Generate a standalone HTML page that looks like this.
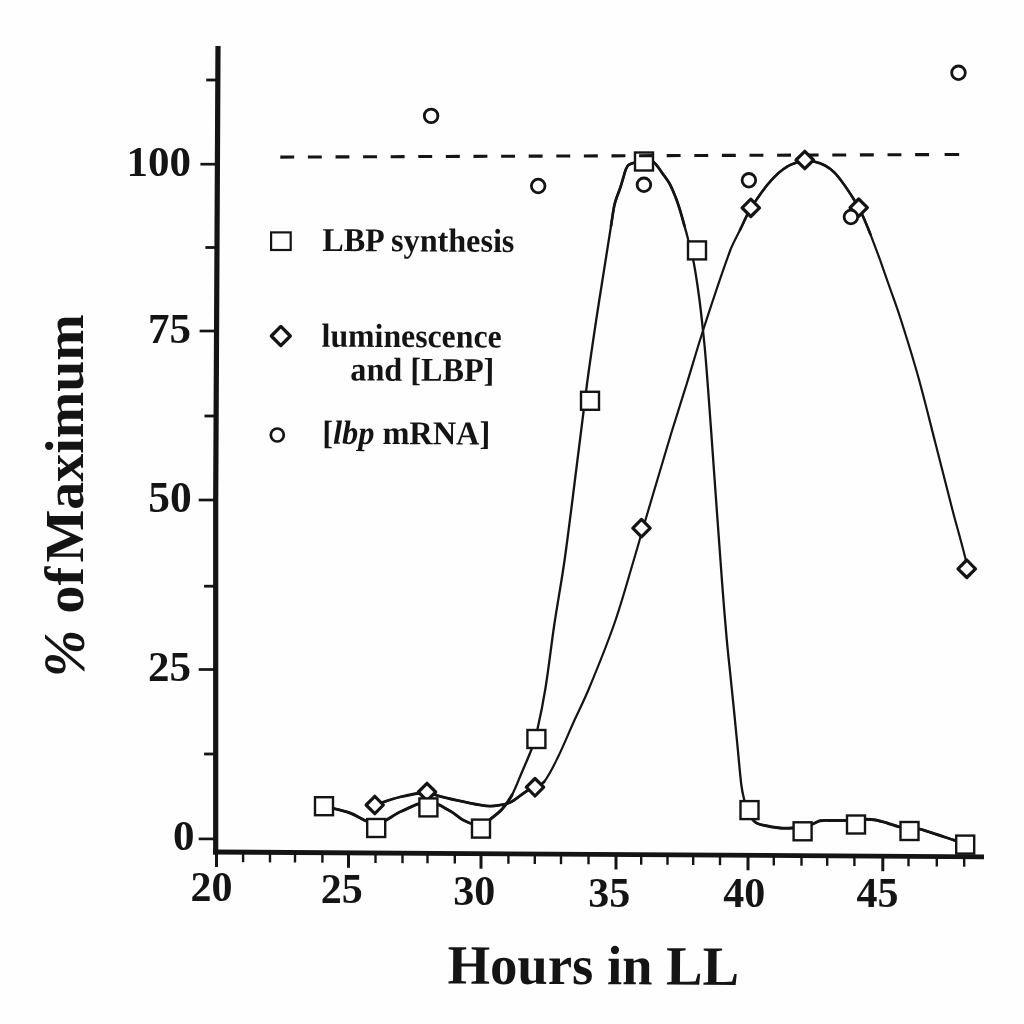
<!DOCTYPE html>
<html lang="en"><head><meta charset="utf-8"><title>Hours in LL chart</title>
<style>
html,body{margin:0;padding:0;background:#fefefe;}
body{width:1024px;height:1024px;overflow:hidden;}
svg{display:block;}
text{font-family:"Liberation Serif",serif;font-weight:bold;fill:#141414;}
.ln{fill:none;stroke:#141414;stroke-linecap:round;stroke-linejoin:round;}
.mk{fill:#fefefe;stroke:#141414;}
</style></head><body>
<svg width="1024" height="1024" viewBox="0 0 1024 1024">
<rect width="1024" height="1024" fill="#fefefe"/>
<g id="axes" stroke="#141414" fill="none">
<polyline points="218,46 215.7,500 215.7,854.4" stroke-width="5.2" stroke-linejoin="round"/>
<line x1="213.1" y1="852.0" x2="984.0" y2="856.8" stroke-width="4.8"/>
<line x1="200.4" y1="164.2" x2="217.4" y2="164.2" stroke-width="2.7"/>
<line x1="199.6" y1="331.0" x2="216.6" y2="331.0" stroke-width="2.7"/>
<line x1="198.7" y1="500.0" x2="215.7" y2="500.0" stroke-width="2.7"/>
<line x1="198.7" y1="669.5" x2="215.7" y2="669.5" stroke-width="2.7"/>
<line x1="198.7" y1="838.9" x2="215.7" y2="838.9" stroke-width="2.7"/>
<line x1="206.2" y1="80.0" x2="217.8" y2="80.0" stroke-width="2.8"/>
<line x1="205.4" y1="247.5" x2="217.0" y2="247.5" stroke-width="2.8"/>
<line x1="204.5" y1="416.0" x2="216.1" y2="416.0" stroke-width="2.8"/>
<line x1="204.1" y1="586.2" x2="215.7" y2="586.2" stroke-width="2.8"/>
<line x1="204.1" y1="754.0" x2="215.7" y2="754.0" stroke-width="2.8"/>
<line x1="216.5" y1="852.0" x2="216.5" y2="867.0" stroke-width="3"/>
<line x1="243.1" y1="852.2" x2="243.1" y2="862.2" stroke-width="2.4"/>
<line x1="270.0" y1="852.4" x2="270.0" y2="862.4" stroke-width="2.4"/>
<line x1="295.0" y1="852.5" x2="295.0" y2="862.5" stroke-width="2.4"/>
<line x1="322.4" y1="852.7" x2="322.4" y2="862.7" stroke-width="2.4"/>
<line x1="348.5" y1="852.8" x2="348.5" y2="867.8" stroke-width="3"/>
<line x1="375.5" y1="853.0" x2="375.5" y2="863.0" stroke-width="2.4"/>
<line x1="402.5" y1="853.2" x2="402.5" y2="863.2" stroke-width="2.4"/>
<line x1="427.5" y1="853.3" x2="427.5" y2="863.3" stroke-width="2.4"/>
<line x1="454.8" y1="853.5" x2="454.8" y2="863.5" stroke-width="2.4"/>
<line x1="481.0" y1="853.7" x2="481.0" y2="868.7" stroke-width="3"/>
<line x1="508.4" y1="853.8" x2="508.4" y2="863.8" stroke-width="2.4"/>
<line x1="534.8" y1="854.0" x2="534.8" y2="864.0" stroke-width="2.4"/>
<line x1="561.0" y1="854.2" x2="561.0" y2="864.2" stroke-width="2.4"/>
<line x1="588.5" y1="854.3" x2="588.5" y2="864.3" stroke-width="2.4"/>
<line x1="616.0" y1="854.5" x2="616.0" y2="869.5" stroke-width="3"/>
<line x1="641.2" y1="854.7" x2="641.2" y2="864.7" stroke-width="2.4"/>
<line x1="667.5" y1="854.8" x2="667.5" y2="864.8" stroke-width="2.4"/>
<line x1="693.2" y1="855.0" x2="693.2" y2="865.0" stroke-width="2.4"/>
<line x1="720.0" y1="855.2" x2="720.0" y2="865.2" stroke-width="2.4"/>
<line x1="748.0" y1="855.3" x2="748.0" y2="870.3" stroke-width="3"/>
<line x1="773.8" y1="855.5" x2="773.8" y2="865.5" stroke-width="2.4"/>
<line x1="801.5" y1="855.7" x2="801.5" y2="865.7" stroke-width="2.4"/>
<line x1="827.2" y1="855.8" x2="827.2" y2="865.8" stroke-width="2.4"/>
<line x1="854.4" y1="856.0" x2="854.4" y2="866.0" stroke-width="2.4"/>
<line x1="882.8" y1="856.2" x2="882.8" y2="871.2" stroke-width="3"/>
<line x1="908.5" y1="856.3" x2="908.5" y2="866.3" stroke-width="2.4"/>
<line x1="936.8" y1="856.5" x2="936.8" y2="866.5" stroke-width="2.4"/>
<line x1="964.2" y1="856.7" x2="964.2" y2="866.7" stroke-width="2.4"/>
</g>
<path class="ln" stroke-width="2.2" d="M374.8,805.0C383.2,802.3 391.4,799.1 400.0,797.0C408.9,794.9 417.9,792.9 427.0,792.5C430.1,792.3 433.0,794.4 436.0,795.2C442.6,797.0 449.3,798.8 456.0,800.2C464.3,802.1 472.6,803.9 481.0,805.2C485.0,805.9 489.0,806.4 493.0,806.0C498.8,805.5 504.7,804.8 510.0,802.5C516.2,799.7 521.0,794.5 526.8,791.0C529.3,789.4 532.3,788.6 535.0,787.2C538.1,785.6 541.9,784.8 544.0,782.0C549.8,774.4 553.8,765.6 558.0,757.0C563.4,746.0 568.0,734.6 573.0,723.5C578.4,711.6 584.3,700.0 589.2,688.0C598.0,666.8 606.7,645.6 614.2,624.0C621.6,602.9 627.4,581.4 633.8,560.0C636.8,550.0 639.6,540.0 642.5,530.0C652.0,498.0 661.3,465.9 671.0,434.0C676.2,416.9 681.7,400.0 687.0,383.0C692.7,364.5 698.0,345.9 704.0,327.5C712.3,301.9 720.7,276.3 730.0,251.0C732.7,243.7 736.6,237.0 740.0,230.0C743.6,222.6 746.9,215.0 750.8,207.7C752.3,204.9 754.4,202.5 756.3,199.9C759.9,194.9 763.3,189.8 767.2,185.0C770.6,180.9 774.3,176.9 778.2,173.3C781.1,170.7 784.2,168.3 787.6,166.3C790.3,164.7 793.3,163.7 796.2,162.7C799.0,161.8 801.8,160.7 804.8,160.5C807.9,160.3 811.1,160.8 814.1,161.6C817.8,162.5 821.6,163.7 825.0,165.5C828.4,167.3 831.6,169.7 834.4,172.5C838.0,176.0 840.8,180.2 843.8,184.2C847.1,188.8 850.2,193.5 853.2,198.3C855.1,201.4 857.0,204.5 858.7,207.7C860.3,210.7 861.9,213.8 863.3,217.0C865.8,222.7 868.1,228.5 870.4,234.2C873.6,242.5 876.7,250.9 879.8,259.2C883.2,268.8 886.5,278.4 889.9,288.0C893.5,298.2 897.2,308.2 900.5,318.5C906.6,337.6 912.6,356.7 918.0,376.0C924.3,398.4 929.7,421.0 935.5,443.5C941.4,466.3 947.1,489.2 953.0,512.0C957.1,527.6 961.7,543.1 965.5,558.8C966.3,562.0 966.3,565.4 966.8,568.8"/>
<path class="ln" stroke-width="2.8" d="M374.8,805.0C383.2,802.3 391.4,799.1 400.0,797.0C408.9,794.9 417.9,792.9 427.0,792.5C430.1,792.3 433.0,794.4 436.0,795.2C442.6,797.0 449.3,798.8 456.0,800.2C464.3,802.1 472.6,803.9 481.0,805.2C485.0,805.9 489.0,806.4 493.0,806.0C498.8,805.5 504.7,804.8 510.0,802.5C516.2,799.7 521.0,794.5 526.8,791.0C529.3,789.4 532.3,788.6 535.0,787.2C538.1,785.6 541.9,784.8 544.0,782.0"/>
<path class="ln" stroke-width="2.6" d="M740.0,230.0C743.6,222.6 746.9,215.0 750.8,207.7C752.3,204.9 754.4,202.5 756.3,199.9C759.9,194.9 763.3,189.8 767.2,185.0C770.6,180.9 774.3,176.9 778.2,173.3C781.1,170.7 784.2,168.3 787.6,166.3C790.3,164.7 793.3,163.7 796.2,162.7C799.0,161.8 801.8,160.7 804.8,160.5C807.9,160.3 811.1,160.8 814.1,161.6C817.8,162.5 821.6,163.7 825.0,165.5C828.4,167.3 831.6,169.7 834.4,172.5C838.0,176.0 840.8,180.2 843.8,184.2C847.1,188.8 850.2,193.5 853.2,198.3C855.1,201.4 857.0,204.5 858.7,207.7C860.3,210.7 861.9,213.8 863.3,217.0C865.8,222.7 868.1,228.5 870.4,234.2"/>
<g id="diamonds" class="mk" stroke-width="3.2" stroke-linejoin="round">
<path d="M374.8,796.3 L383.4,805.0 L374.8,813.7 L366.1,805.0Z"/>
<path d="M427.0,783.3 L435.7,792.0 L427.0,800.7 L418.3,792.0Z"/>
<path d="M535.0,778.5 L543.7,787.2 L535.0,796.0 L526.3,787.2Z"/>
<path d="M641.5,519.4 L650.2,528.1 L641.5,536.8 L632.8,528.1Z"/>
<path d="M750.8,199.1 L759.5,207.8 L750.8,216.5 L742.1,207.8Z"/>
<path d="M858.7,199.0 L867.4,207.7 L858.7,216.4 L850.0,207.7Z"/>
<path d="M966.8,560.0 L975.5,568.8 L966.8,577.5 L958.0,568.8Z"/>
</g>
<path class="ln" stroke-width="2.3" d="M324.0,806.2C332.7,808.5 341.5,810.2 350.0,813.0C358.9,816.0 366.7,823.8 376.0,823.5C385.2,823.2 392.5,815.0 401.0,811.5C410.0,807.8 418.8,801.8 428.5,801.8C436.7,801.8 443.8,807.7 451.0,811.5C455.5,813.9 458.9,818.1 463.5,820.2C469.0,822.8 474.9,826.0 481.0,825.5C485.4,825.2 488.3,820.7 491.8,818.0C495.4,815.2 499.2,812.5 502.2,809.0C506.0,804.7 509.3,800.0 512.0,795.0C515.9,787.6 518.7,779.7 522.0,772.0C525.3,764.2 528.9,756.5 531.8,748.5C534.0,742.1 536.0,735.6 537.5,729.0C540.6,715.4 543.3,701.7 545.5,688.0C548.9,666.7 551.2,645.3 554.4,624.0C557.6,602.6 561.6,581.4 564.6,560.0C568.8,530.1 572.4,500.0 576.2,470.0C579.8,441.3 583.2,412.6 587.0,384.0C589.8,362.6 593.0,341.3 596.2,320.0C598.4,305.3 600.8,290.7 603.1,276.0C605.7,259.3 608.4,242.7 611.0,226.0C612.1,219.3 612.9,212.6 614.2,206.0C614.7,203.3 615.6,200.6 616.5,198.0C617.6,194.8 618.9,191.7 620.0,188.5C621.4,184.4 622.5,180.2 623.8,176.0C624.5,173.7 625.0,171.3 626.0,169.0C626.6,167.6 627.3,166.0 628.5,165.0C630.1,163.8 632.2,163.5 634.0,162.8C636.3,161.9 638.5,160.5 641.0,160.0C643.9,159.4 647.1,158.6 650.0,159.5C652.5,160.2 654.3,162.6 656.0,164.5C658.4,167.1 660.2,170.1 662.2,173.0C664.7,176.5 667.4,179.8 669.5,183.5C671.8,187.6 673.5,192.1 675.3,196.5C676.9,200.4 678.2,204.5 679.5,208.5C681.3,214.3 682.9,220.2 684.5,226.0C685.8,230.6 687.1,235.1 688.2,239.8C690.3,247.8 692.5,255.8 694.0,264.0C696.2,275.9 697.9,288.0 699.5,300.0C701.4,315.0 703.0,330.0 704.5,345.0C705.9,359.3 706.9,373.7 708.0,388.0C710.4,420.3 712.7,452.7 715.0,485.0C717.4,518.0 719.7,551.0 722.2,584.0C723.6,602.7 725.1,621.3 726.8,640.0C728.2,655.3 730.0,670.7 731.5,686.0C733.5,705.3 735.4,724.7 737.3,744.0C738.6,757.3 739.7,770.7 741.2,784.0C741.8,788.7 742.6,793.4 743.8,798.0C744.7,802.1 745.7,806.2 747.5,810.0C749.5,814.3 751.5,818.9 755.0,822.0C757.6,824.3 761.6,824.7 765.0,825.5C769.9,826.7 775.0,827.5 780.0,828.0C784.1,828.4 788.3,828.2 792.5,828.0C795.9,827.8 799.2,827.3 802.5,826.7C805.9,826.1 809.2,825.3 812.5,824.2C815.1,823.4 817.3,821.3 820.0,820.8C824.3,820.0 828.7,820.6 833.0,820.5C837.2,820.5 841.3,820.6 845.5,820.5C849.0,820.4 852.5,820.2 856.0,820.0C859.3,819.8 862.7,819.3 866.0,819.3C869.2,819.3 872.4,819.4 875.5,820.0C879.4,820.7 883.2,821.9 887.0,823.0C891.1,824.2 895.1,825.8 899.2,826.8C902.6,827.5 906.1,827.6 909.5,828.0C912.9,828.4 916.4,828.5 919.8,829.2C925.6,830.6 931.3,832.7 937.0,834.5C943.0,836.4 949.0,838.6 955.0,840.5C958.3,841.6 961.7,842.5 965.0,843.5"/>
<path class="ln" stroke-width="2.9" d="M324.0,806.2C332.7,808.5 341.5,810.2 350.0,813.0C358.9,816.0 366.7,823.8 376.0,823.5C385.2,823.2 392.5,815.0 401.0,811.5C410.0,807.8 418.8,801.8 428.5,801.8C436.7,801.8 443.8,807.7 451.0,811.5C455.5,813.9 458.9,818.1 463.5,820.2C469.0,822.8 474.9,826.0 481.0,825.5C485.4,825.2 488.3,820.7 491.8,818.0C495.4,815.2 499.2,812.5 502.2,809.0C506.0,804.7 509.3,800.0 512.0,795.0"/>
<path class="ln" stroke-width="2.9" d="M747.5,810.0C749.5,814.3 751.5,818.9 755.0,822.0C757.6,824.3 761.6,824.7 765.0,825.5C769.9,826.7 775.0,827.5 780.0,828.0C784.1,828.4 788.3,828.2 792.5,828.0C795.9,827.8 799.2,827.3 802.5,826.7C805.9,826.1 809.2,825.3 812.5,824.2C815.1,823.4 817.3,821.3 820.0,820.8C824.3,820.0 828.7,820.6 833.0,820.5C837.2,820.5 841.3,820.6 845.5,820.5C849.0,820.4 852.5,820.2 856.0,820.0C859.3,819.8 862.7,819.3 866.0,819.3C869.2,819.3 872.4,819.4 875.5,820.0C879.4,820.7 883.2,821.9 887.0,823.0C891.1,824.2 895.1,825.8 899.2,826.8C902.6,827.5 906.1,827.6 909.5,828.0C912.9,828.4 916.4,828.5 919.8,829.2C925.6,830.6 931.3,832.7 937.0,834.5C943.0,836.4 949.0,838.6 955.0,840.5C958.3,841.6 961.7,842.5 965.0,843.5"/>
<path class="ln" stroke-width="2.7" d="M611.0,226.0C612.1,219.3 612.9,212.6 614.2,206.0C614.7,203.3 615.6,200.6 616.5,198.0C617.6,194.8 618.9,191.7 620.0,188.5C621.4,184.4 622.5,180.2 623.8,176.0C624.5,173.7 625.0,171.3 626.0,169.0C626.6,167.6 627.3,166.0 628.5,165.0C630.1,163.8 632.2,163.5 634.0,162.8C636.3,161.9 638.5,160.5 641.0,160.0C643.9,159.4 647.1,158.6 650.0,159.5C652.5,160.2 654.3,162.6 656.0,164.5C658.4,167.1 660.2,170.1 662.2,173.0C664.7,176.5 667.4,179.8 669.5,183.5C671.8,187.6 673.5,192.1 675.3,196.5C676.9,200.4 678.2,204.5 679.5,208.5C681.3,214.3 682.9,220.2 684.5,226.0"/>
<g id="squares" class="mk" stroke-width="2.4">
<rect x="315.0" y="797.2" width="18.0" height="18.0"/>
<rect x="367.2" y="819.0" width="18.0" height="18.0"/>
<rect x="419.4" y="798.4" width="18.0" height="18.0"/>
<rect x="472.0" y="819.6" width="18.0" height="18.0"/>
<rect x="527.4" y="730.0" width="18.0" height="18.0"/>
<rect x="581.0" y="391.8" width="18.0" height="18.0"/>
<rect x="635.0" y="152.5" width="18.0" height="18.0"/>
<rect x="688.0" y="241.4" width="18.0" height="18.0"/>
<rect x="740.5" y="801.1" width="18.0" height="18.0"/>
<rect x="793.6" y="822.3" width="18.0" height="18.0"/>
<rect x="847.0" y="815.5" width="18.0" height="18.0"/>
<rect x="900.5" y="822.0" width="18.0" height="18.0"/>
<rect x="956.2" y="835.6" width="18.0" height="18.0"/>
</g>
<g id="dash" stroke="#141414" stroke-width="3.1">
<line x1="280.3" y1="157.10" x2="294.2" y2="157.05"/>
<line x1="307.9" y1="156.99" x2="321.8" y2="156.94"/>
<line x1="335.5" y1="156.89" x2="349.4" y2="156.84"/>
<line x1="363.1" y1="156.78" x2="377.0" y2="156.73"/>
<line x1="390.7" y1="156.68" x2="404.6" y2="156.62"/>
<line x1="418.3" y1="156.57" x2="432.2" y2="156.52"/>
<line x1="445.9" y1="156.47" x2="459.8" y2="156.41"/>
<line x1="473.5" y1="156.36" x2="487.4" y2="156.31"/>
<line x1="501.1" y1="156.25" x2="515.0" y2="156.20"/>
<line x1="528.7" y1="156.15" x2="542.6" y2="156.10"/>
<line x1="556.3" y1="156.04" x2="570.2" y2="155.99"/>
<line x1="583.9" y1="155.94" x2="597.8" y2="155.88"/>
<line x1="611.5" y1="155.83" x2="625.4" y2="155.78"/>
<line x1="639.1" y1="155.73" x2="653.0" y2="155.67"/>
<line x1="666.7" y1="155.62" x2="680.6" y2="155.57"/>
<line x1="694.3" y1="155.51" x2="708.2" y2="155.46"/>
<line x1="721.9" y1="155.41" x2="735.8" y2="155.36"/>
<line x1="749.5" y1="155.30" x2="763.4" y2="155.25"/>
<line x1="777.1" y1="155.20" x2="791.0" y2="155.14"/>
<line x1="804.7" y1="155.09" x2="818.6" y2="155.04"/>
<line x1="832.3" y1="154.99" x2="846.2" y2="154.93"/>
<line x1="859.9" y1="154.88" x2="873.8" y2="154.83"/>
<line x1="887.5" y1="154.77" x2="901.4" y2="154.72"/>
<line x1="915.1" y1="154.67" x2="929.0" y2="154.61"/>
<line x1="944.6" y1="154.56" x2="959.2" y2="154.50"/>
</g>
<g class="mk" stroke-width="3.2" stroke-linejoin="round"><path d="M804.8,151.3 L813.5,160.0 L804.8,168.7 L796.0,160.0Z"/></g>
<g id="circles" class="mk" stroke-width="2.8">
<circle cx="431.1" cy="115.9" r="6.8"/>
<circle cx="538.2" cy="186.0" r="6.8"/>
<circle cx="643.9" cy="184.8" r="6.8"/>
<circle cx="748.9" cy="180.3" r="6.8"/>
<circle cx="850.9" cy="217.0" r="6.8"/>
<circle cx="958.5" cy="72.8" r="6.8"/>
</g>
<g id="legend">
<rect class="mk" x="271.1" y="232.4" width="19.6" height="17.6" stroke-width="2.2"/>
<path class="mk" stroke-width="3.3" stroke-linejoin="round" d="M280.8,326.4 L290.3,336 L280.8,345.6 L271.3,336Z"/>
<circle class="mk" cx="277.3" cy="435" r="6.5" stroke-width="2.7"/>
<text x="322.2" y="251.0" font-size="33.4" textLength="192.2" lengthAdjust="spacingAndGlyphs" transform="rotate(0.30 322.2 251.0)">LBP synthesis</text>
<text x="321.6" y="346.7" font-size="33.4" textLength="180.0" lengthAdjust="spacingAndGlyphs" transform="rotate(0.30 321.6 346.7)">luminescence</text>
<text x="350.3" y="380.5" font-size="33.4" textLength="144.0" lengthAdjust="spacingAndGlyphs" transform="rotate(0.30 350.3 380.5)">and [LBP]</text>
<text x="322.2" y="443.7" font-size="33.4" textLength="168.0" lengthAdjust="spacingAndGlyphs" transform="rotate(0.30 322.2 443.7)">[<tspan font-style="italic">lbp</tspan> mRNA]</text>
</g>
<g id="ylabels" font-size="43" text-anchor="end">
<text x="190.9" y="175.8">100</text>
<text x="190.9" y="342.9">75</text>
<text x="190.9" y="680.8">25</text>
<text x="191.7" y="512.2" font-size="43.5">50</text>
<text x="194.6" y="850">0</text>
</g>
<g id="xlabels" font-size="42" text-anchor="middle">
<text x="211.4" y="901.2">20</text>
<text x="341.8" y="902.6">25</text>
<text x="474.2" y="905.0">30</text>
<text x="609.2" y="906.6">35</text>
<text x="744.2" y="906.8">40</text>
<text x="877.6" y="907.2">45</text>
</g>
<text id="xtitle" x="447.5" y="983.4" font-size="55.5" textLength="291.5" lengthAdjust="spacingAndGlyphs" transform="rotate(0.32 447 983.4)">Hours in LL</text>
<text id="ypct" transform="translate(83.6 677.3) rotate(-90)" font-size="59" font-style="italic" textLength="47.5" lengthAdjust="spacingAndGlyphs">%</text>
<text id="ytitle" transform="translate(82.8 613.4) rotate(-90)" font-size="55.9" word-spacing="-9.6">of Maximum</text>
</svg>
</body></html>
